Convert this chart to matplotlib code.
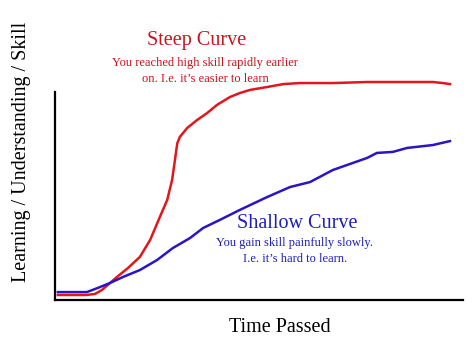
import matplotlib
matplotlib.use("Agg")
import matplotlib.pyplot as plt

plt.rcParams['font.family'] = ['Liberation Serif', 'DejaVu Serif']

# steep curve (time, skill), 0..100 scale
steep_t = [0.7, 7.6, 9.8, 11.5, 15.2, 17.9, 20.8, 23.3, 25.7, 27.5, 28.7, 29.4,
           29.8, 30.0, 30.6, 32.4, 34.8, 37.3, 39.7, 42.9, 45.3, 47.8, 52.0,
           55.9, 60.0, 68.1, 76.5, 84.6, 92.6, 95.1, 96.8]
steep_s = [2.4, 2.4, 2.9, 4.8, 11.1, 15.4, 20.7, 28.8, 39.9, 48.1, 57.7, 67.3,
           73.1, 75.5, 78.4, 82.7, 86.5, 89.9, 93.8, 97.6, 99.5, 101.0, 102.4,
           103.8, 104.3, 104.3, 104.8, 104.8, 104.8, 104.3, 103.8]

# shallow curve
shallow_t = [0.7, 7.8, 10.5, 13.5, 16.7, 20.8, 25.0, 28.9, 33.1, 36.3, 40.4,
             45.3, 52.0, 57.6, 62.5, 68.1, 76.5, 78.9, 82.8, 86.3, 92.6, 96.8]
shallow_s = [3.8, 3.8, 5.8, 8.2, 11.1, 14.4, 19.2, 25.0, 29.8, 34.6, 38.5,
             43.3, 49.5, 54.3, 56.7, 62.5, 68.3, 70.7, 71.2, 73.1, 74.5, 76.4]

red_line = '#e2161d'
blue_line = '#2a14c4'
red_text = '#c8141e'
blue_text = '#1e1eb8'

fig = plt.figure(figsize=(4.74, 3.51), dpi=100)
ax = fig.add_axes([55 / 474, 51 / 351, 408 / 474, 208 / 351])

ax.plot(steep_t, steep_s, color=red_line, lw=1.8, clip_on=False)
ax.plot(shallow_t, shallow_s, color=blue_line, lw=1.8, clip_on=False)

ax.set_xlim(0, 100)
ax.set_ylim(0, 100)
ax.set_xticks([])
ax.set_yticks([])
for side in ['top', 'right']:
    ax.spines[side].set_visible(False)
for side in ['left', 'bottom']:
    ax.spines[side].set_linewidth(1.6)

# annotations
ax.text(34.8, 125.0, 'Steep Curve', color=red_text, fontsize=14.5,
        ha='center', va='center')
ax.text(36.8, 110.1, 'You reached high skill rapidly earlier\non. I.e. it\u2019s easier to learn',
        color=red_text, fontsize=9, ha='center', va='center',
        multialignment='center', linespacing=1.4)
ax.text(59.3, 37.0, 'Shallow Curve', color=blue_text, fontsize=14.5,
        ha='center', va='center')
ax.text(58.8, 23.6, 'You gain skill painfully slowly.\nI.e. it\u2019s hard to learn.',
        color=blue_text, fontsize=9, ha='center', va='center',
        multialignment='center', linespacing=1.4)

fig.text(280 / 474, 1 - 327 / 351, 'Time Passed', fontsize=14.5,
         ha='center', va='center')
fig.text(22 / 474, 1 - 152 / 351, 'Learning / Understanding / Skill',
         fontsize=14.5, rotation=90, ha='center', va='center')

fig.savefig('out.png', dpi=100)
